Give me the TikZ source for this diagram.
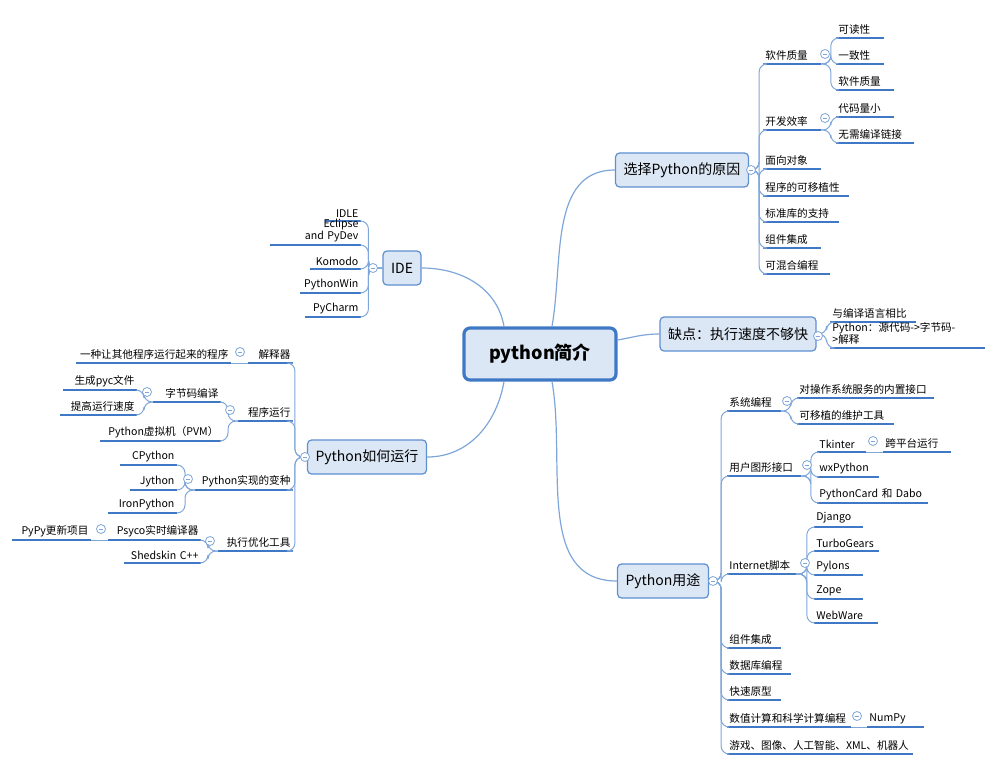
\documentclass[tikz,border=0pt]{standalone}
\usepackage{fontspec}
\setmainfont{Noto Sans CJK SC}
\usetikzlibrary{arrows}

\definecolor{lineblue}{HTML}{3F78C4}
\definecolor{connblue}{HTML}{7FA6D8}
\definecolor{boxfill}{HTML}{DCE7F5}
\definecolor{boxdraw}{HTML}{5E8FCF}

\tikzset{
  root/.style={draw=lineblue, line width=1.6pt, fill=boxfill, rounded corners=3pt,
    minimum width=76pt, minimum height=26pt, font=\fontsize{9}{10}\selectfont\bfseries},
  topic/.style={draw=boxdraw, line width=0.6pt, fill=boxfill, rounded corners=2pt,
    minimum height=17pt, inner xsep=4pt, font=\fontsize{7}{8}\selectfont},
  leaf/.style={inner xsep=1pt, inner ysep=1.5pt, font=\fontsize{5.3}{6}\selectfont},
  uline/.style={draw=lineblue, line width=0.8pt},
  conn/.style={draw=connblue, line width=0.5pt, rounded corners=4pt},
  main/.style={draw=connblue, line width=0.6pt},
  fold/.style={circle, draw=connblue, fill=white, line width=0.4pt, minimum size=4.5pt, inner sep=0pt,
    path picture={\draw[connblue, line width=0.4pt] ([xshift=-1.2pt]path picture bounding box.center) -- ([xshift=1.2pt]path picture bounding box.center);}}
}

% leaf: name, left x, right x, underline y, text
\newcommand\leafR[5]{%
  \pgfmathsetlengthmacro\lw{(#3-#2)*0.5pt-2pt}%
  \node[leaf, text width=\lw, align=left, anchor=south west] (#1) at (#2,#4) {#5};
  \draw[uline] (#1.south west) -- (#1.south east);}
\newcommand\leafL[5]{%
  \pgfmathsetlengthmacro\lw{(#3-#2)*0.5pt-2pt}%
  \node[leaf, text width=\lw, align=right, anchor=south west] (#1) at (#2,#4) {#5};
  \draw[uline] (#1.south west) -- (#1.south east);}
\newcommand\fold[2]{\node[fold] (#1) at (#2) {};}

\begin{document}
\begin{tikzpicture}[x=0.5pt, y=-0.5pt]
	\useasboundingbox (0,0) rectangle (1000,770);

	% Root and main topics
	\node [root]  (root) at (540,354) {python简介};
	\node [topic] (sel)  at (682,170) {选择Python的原因};
	\node [topic] (que)  at (738,334) {缺点：执行速度不够快};
	\node [topic] (yt)   at (663,581) {Python用途};
	\node [topic] (ide)  at (402,268) {IDE};
	\node [topic] (run)  at (367,457) {Python如何运行};

	\draw [main] ([xshift=6pt]root.north) to[out=80,in=180] (sel.west);
	\draw [main] ([yshift=7pt]root.east) to[out=10,in=180] (que.west);
	\draw [main] ([xshift=6pt]root.south) to[out=-80,in=180] (yt.west);
	\draw [main] ([xshift=-18pt]root.north) to[out=100,in=0] (ide.east);
	\draw [main] ([xshift=-18pt]root.south) to[out=-100,in=0] (run.east);

	% Reasons
	\leafR{q1}{763}{820}{64}{软件质量}
	\leafR{q11}{836}{883}{38}{可读性}
	\leafR{q12}{836}{883}{64}{一致性}
	\leafR{q13}{836}{893}{90}{软件质量}
	\leafR{q2}{763}{820}{130}{开发效率}
	\leafR{q21}{836}{893}{117}{代码量小}
	\leafR{q22}{836}{913}{143}{无需编译链接}
	\leafR{q3}{763}{820}{169}{面向对象}
	\leafR{q4}{763}{848}{196}{程序的可移植性}
	\leafR{q5}{763}{838}{222}{标准库的支持}
	\leafR{q6}{763}{820}{248}{组件集成}
	\leafR{q7}{763}{829}{274}{可混合编程}
	\foreach \c in {q1,q2,q3,q4,q5,q6,q7}
		\draw [conn] (sel.east) -- ++(10,0) |- (\c.south west);
	\foreach \c in {q11,q12,q13}
		\draw [conn] (q1.south east) -- ++(10,0) |- (\c.south west);
	\foreach \c in {q21,q22}
		\draw [conn] (q2.south east) -- ++(10,0) |- (\c.south west);

	% Drawback
	\leafR{w1}{830}{915}{322}{与编译语言相比}
	\leafR{w2}{830}{984}{348}{Python：源代码->字节码->解释}
	\foreach \c in {w1,w2}
		\draw [conn] (que.east) -- ++(10,0) |- (\c.south west);

	% Uses
	\leafR{u1}{727}{780}{411}{系统编程}
	\leafR{u11}{797}{933}{398}{对操作系统服务的内置接口}
	\leafR{u12}{797}{893}{424}{可移植的维护工具}
	\leafR{u2}{727}{800}{476}{用户图形接口}
	\leafR{u21}{817}{865}{452}{Tkinter}
	\leafR{u211}{883}{950}{452}{跨平台运行}
	\leafR{u22}{817}{878}{477}{wxPython}
	\leafR{u23}{817}{927}{503}{PythonCard 和 Dabo}
	\leafR{u3}{727}{795}{574}{Internet脚本}
	\leafR{u31}{814}{862}{527}{Django}
	\leafR{u32}{814}{878}{551}{TurboGears}
	\leafR{u33}{814}{862}{575}{Pylons}
	\leafR{u34}{814}{862}{599}{Zope}
	\leafR{u35}{814}{877}{623}{WebWare}
	\leafR{u4}{727}{780}{648}{组件集成}
	\leafR{u5}{727}{790}{674}{数据库编程}
	\leafR{u6}{727}{780}{700}{快速原型}
	\leafR{u7}{727}{850}{727}{数值计算和科学计算编程}
	\leafR{u71}{867}{923}{727}{NumPy}
	\leafR{u8}{727}{912}{754}{游戏、图像、人工智能、XML、机器人}
	\foreach \c in {u1,u2,u3,u4,u5,u6,u7,u8}
		\draw [conn] (yt.east) -- ++(12,0) |- (\c.south west);
	\foreach \c in {u11,u12}
		\draw [conn] (u1.south east) -- ++(10,0) |- (\c.south west);
	\foreach \c in {u21,u22,u23}
		\draw [conn] (u2.south east) -- ++(10,0) |- (\c.south west);
	\foreach \c in {u31,u32,u33,u34,u35}
		\draw [conn] (u3.south east) -- ++(11,0) |- (\c.south west);
	\draw [conn] (u21.south east) -- (u211.south west);
	\draw [conn] (u7.south east) -- (u71.south west);

	% IDE
	\leafL{i1}{325}{360}{221}{IDLE}
	\leafL{i2}{270}{360}{245}{Eclipse and PyDev}
	\leafL{i3}{310}{360}{269}{Komodo}
	\leafL{i4}{300}{360}{293}{PythonWin}
	\leafL{i5}{305}{360}{317}{PyCharm}
	\foreach \c in {i1,i2,i3,i4,i5}
		\draw [conn] (ide.west) -- ++(-14,0) |- (\c.south east);

	% How Python runs
	\leafL{r1}{248}{292}{363}{解释器}
	\leafL{r11}{76}{230}{363}{一种让其他程序运行起来的程序}
	\leafL{r2}{238}{292}{421}{程序运行}
	\leafL{r21}{153}{220}{402}{字节码编译}
	\leafL{r211}{63}{136}{390}{生成pyc文件}
	\leafL{r212}{60}{136}{415}{提高运行速度}
	\leafL{r22}{100}{220}{441}{Python虚拟机（PVM）}
	\leafL{r3}{195}{292}{490}{Python实现的变种}
	\leafL{r31}{120}{176}{465}{CPython}
	\leafL{r32}{130}{176}{490}{Jython}
	\leafL{r33}{108}{176}{513}{IronPython}
	\leafL{r4}{218}{292}{551}{执行优化工具}
	\leafL{r41}{108}{200}{540}{Psyco实时编译器}
	\leafL{r411}{12}{90}{540}{PyPy更新项目}
	\leafL{r42}{124}{200}{563}{Shedskin C++}
	\foreach \c in {r1,r2,r3,r4}
		\draw [conn] (run.west) -- ++(-12,0) |- (\c.south east);
	\foreach \c in {r21,r22}
		\draw [conn] (r2.south west) -- ++(-10,0) |- (\c.south east);
	\foreach \c in {r211,r212}
		\draw [conn] (r21.south west) -- ++(-9,0) |- (\c.south east);
	\foreach \c in {r31,r32,r33}
		\draw [conn] (r3.south west) -- ++(-10,0) |- (\c.south east);
	\foreach \c in {r41,r42}
		\draw [conn] (r4.south west) -- ++(-10,0) |- (\c.south east);
	\draw [conn] (r1.south west) -- (r11.south east);
	\draw [conn] (r41.south west) -- (r411.south east);

	% Fold markers
	\fold{f1}{751,170}  \fold{f2}{825,54}   \fold{f3}{825,118}
	\fold{f4}{818,336}  \fold{f5}{713,581}  \fold{f6}{787,401}
	\fold{f7}{807,465}  \fold{f8}{873,441}  \fold{f9}{805,563}
	\fold{f10}{857,716} \fold{f11}{373,268} \fold{f12}{305,457}
	\fold{f13}{240,352} \fold{f14}{230,410} \fold{f15}{147,392}
	\fold{f16}{188,479} \fold{f17}{210,541} \fold{f18}{101,529}
\end{tikzpicture}
\end{document}
